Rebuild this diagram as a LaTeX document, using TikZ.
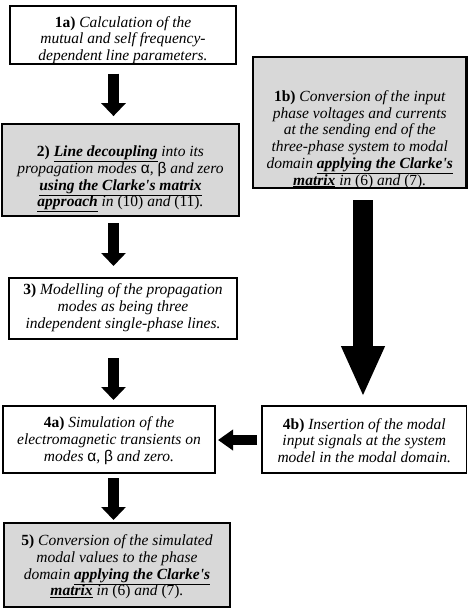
\documentclass[tikz,border=0pt]{standalone}
\usepackage{fontspec}
\setmainfont{Liberation Serif}
\newfontfamily\grkfont{Liberation Sans}
\usetikzlibrary{arrows.meta}
\definecolor{boxgray}{RGB}{216,216,216}
\newcommand{\bu}[1]{\underline{\textbf{\textit{#1}}}}
\newcommand{\ga}{{\upshape\grkfont α}}
\newcommand{\gb}{{\upshape\grkfont β}}
\newcommand{\up}[1]{{\upshape #1}}
\newcommand{\num}[1]{{\upshape\bfseries #1}}
\begin{document}
\begin{tikzpicture}[x=1pt,y=-1pt,
  box/.style={draw, line width=1.4pt, inner sep=0pt},
  graybox/.style={box, line width=2.8pt, fill=boxgray},
  boxtext/.style={align=center, inner sep=0pt,
    font=\fontsize{15.5}{16.7}\selectfont\itshape},
  blockarrow/.style={line width=10.5pt, -{Triangle[width=24pt,length=13pt]}},
  bigarrow/.style={line width=20pt, -{Triangle[width=40pt,length=51pt]}},
  sidearrow/.style={line width=10pt, -{Triangle[width=20pt,length=15pt]}}]
\useasboundingbox (0,0) rectangle (468,610);

% boxes
\node[box, minimum width=226pt, minimum height=58pt] (n1a) at (123,35) {};
\node[graybox, minimum width=237pt, minimum height=92pt] (n2) at (120.5,170) {};
\node[graybox, minimum width=213.5pt, minimum height=131pt] (n1b) at (359.75,122.5) {};
\node[box, minimum width=228pt, minimum height=61pt] (n3) at (123,308.5) {};
\node[box, minimum width=212pt, minimum height=67pt] (n4a) at (109,439.5) {};
\node[box, minimum width=204.5pt, minimum height=67pt] (n4b) at (364.25,439.5) {};
\node[graybox, minimum width=226pt, minimum height=84pt] (n5) at (117,565) {};

% texts
\node[boxtext] (t1a) at ([yshift=-5pt]n1a.center)
  {\num{1a)} Calculation of the\\ mutual and self frequency-\\ dependent line parameters.};
\node[boxtext] (t2) at ([yshift=-9pt]n2.center)
  {\num{2)} \bu{Line decoupling} into its\\ propagation modes \ga, \gb\ and zero\\
   \bu{using the Clarke\textquotesingle s matrix}\\ \bu{approach} in \up{(10)} and \up{(11)}.};
\node[boxtext] (t1b) at ([yshift=-17pt]n1b.center)
  {\num{1b)} Conversion of the input\\ phase voltages and currents\\ at the sending end of the\\
   three-phase system to modal\\ domain \bu{applying the Clarke\textquotesingle s}\\
   \bu{matrix} in \up{(6)} and \up{(7)}.};
\node[boxtext] (t3) at ([yshift=1pt]n3.center)
  {\num{3)} Modelling of the propagation\\ modes as being three\\ independent single-phase lines.};
\node[boxtext] (t4a) at ([yshift=-1pt]n4a.center)
  {\num{4a)} Simulation of the\\ electromagnetic transients on\\ modes \ga, \gb\ and zero.};
\node[boxtext] (t4b) at ([yshift=-1pt]n4b.center)
  {\num{4b)} Insertion of the modal\\ input signals at the system\\ model in the modal domain.};
\node[boxtext] (t5) at ([yshift=-2pt]n5.center)
  {\num{5)} Conversion of the simulated\\ modal values to the phase\\
   domain \bu{applying the Clarke\textquotesingle s}\\ \bu{matrix} in \up{(6)} and \up{(7)}.};

\coordinate (colA) at (113.5,0);
\coordinate (colB) at (363,0);
\coordinate (rowC) at (0,440);

\draw[blockarrow, shorten <=9pt, shorten >=6.5pt] (n1a.south -| colA) -- (n2.north -| colA);
\draw[blockarrow, shorten <=5.6pt, shorten >=11.3pt] (n2.south -| colA) -- (n3.north -| colA);
\draw[blockarrow, shorten <=18.3pt, shorten >=5.3pt] (n3.south -| colA) -- (n4a.north -| colA);
\draw[blockarrow, shorten <=4.3pt, shorten >=1.6pt] (n4a.south -| colA) -- (n5.north -| colA);
\draw[bigarrow, shorten <=10.6pt, shorten >=8.3pt] (n1b.south -| colB) -- (n4b.north -| colB);
\draw[sidearrow, shorten <=4.3pt, shorten >=2.3pt] (n4b.west |- rowC) -- (n4a.east |- rowC);
\end{tikzpicture}
\end{document}
